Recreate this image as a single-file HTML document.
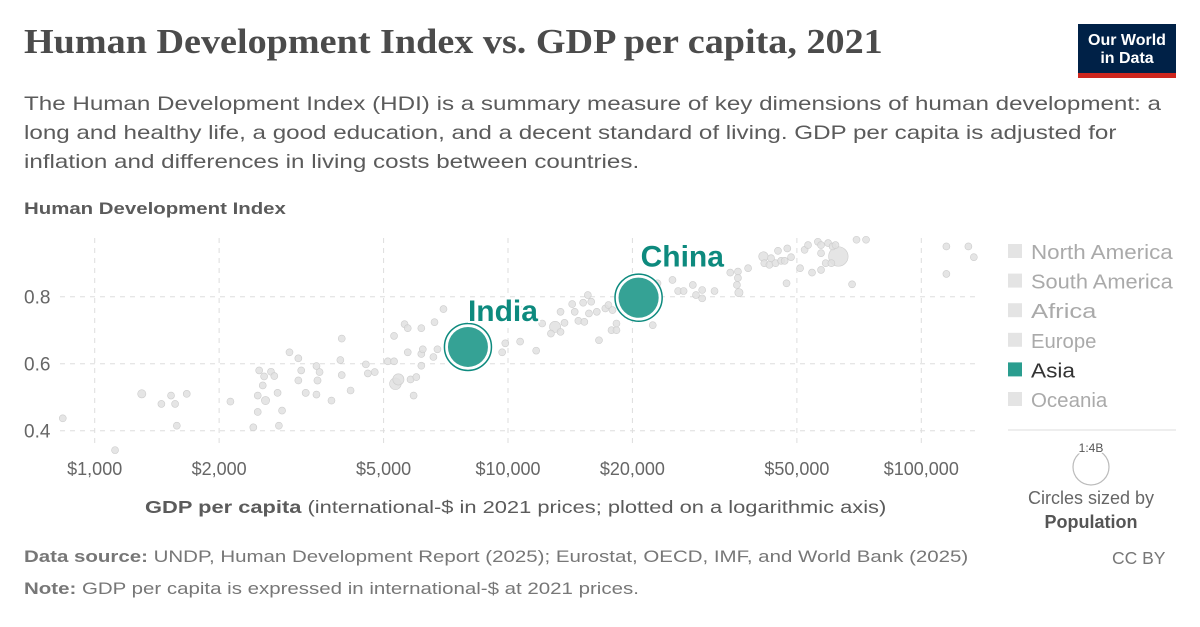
<!DOCTYPE html>
<html><head><meta charset="utf-8"><style>
body{margin:0;background:#fff;width:1200px;height:627px;overflow:hidden;position:relative;font-family:"Liberation Sans",sans-serif;}
.a{position:absolute;white-space:nowrap;}
.s{transform-origin:0 0;}
</style></head><body>
<div class="a s" style="left:24px;top:22px;font-family:'Liberation Serif',serif;font-size:35px;font-weight:bold;color:#4b4b4b;transform:scaleX(1.09);">Human Development Index vs. GDP per capita, 2021</div>
<div class="a" style="left:1078px;top:24px;width:98px;height:54px;background:#002147;border-bottom:5px solid #ce261e;box-sizing:border-box;color:#fff;font-size:16px;line-height:18px;text-align:center;padding-top:8px;font-weight:bold;">Our World<br>in Data</div>
<div class="a s" style="left:24px;top:90px;font-size:19.5px;line-height:29px;color:#5b5b5b;transform:scaleX(1.24);">The Human Development Index (HDI) is a summary measure of key dimensions of human development: a<br>long and healthy life, a good education, and a decent standard of living. GDP per capita is adjusted for<br>inflation and differences in living costs between countries.</div>
<div class="a s" style="left:24px;top:199px;font-size:17px;font-weight:bold;color:#5b5b5b;transform:scaleX(1.2);">Human Development Index</div>
<svg class="a" style="left:0;top:0" width="1200" height="627" id="chart"></svg>
<div class="a s" style="left:145px;top:497px;font-size:17.5px;color:#5b5b5b;transform:scaleX(1.25);"><b>GDP per capita</b> (international-$ in 2021 prices; plotted on a logarithmic axis)</div>
<div class="a s" style="left:24px;top:548px;font-size:16.5px;color:#777;transform:scaleX(1.24);"><b>Data source:</b> UNDP, Human Development Report (2025); Eurostat, OECD, IMF, and World Bank (2025)</div>
<div class="a s" style="left:24px;top:580px;font-size:16.5px;color:#777;transform:scaleX(1.24);"><b>Note:</b> GDP per capita is expressed in international-$ at 2021 prices.</div>
<div class="a" style="left:1112px;top:548px;font-size:17.5px;color:#777;">CC BY</div>
<script>
const xTicks=[1000,2000,5000,10000,20000,50000,100000];
const xTickLabels=["$1,000","$2,000","$5,000","$10,000","$20,000","$50,000","$100,000"];
const yTicks=[0.4,0.6,0.8];
const yTickLabels=["0.4","0.6","0.8"];
const gdp=[837,1120,1300,1450,1530,1565,1670,1580,2130,2420,2480,2480,2590,2550,2500,2570,2670,2720,2770,2790,2840,2960,3110,3160,3110,3240,3440,3500,3460,3440,3740,3930,3960,3960,4160,4530,4580,4760,5120,5300,5300,5430,5340,5620,5720,5720,5810,5910,6000,6170,6170,6220,6170,6600,6640,6750,6980,9680,9850,10700,11700,10800,12100,12700,13000,13400,13700,13400,14300,14500,14800,15200,15600,15900,15700,15300,16400,17200,17500,17900,17800,18300,18300,16600,22400,23000,25000,25800,26600,28000,28500,29500,29500,31600,31000,34500,36000,36000,35800,36200,38100,41500,41700,43300,42900,45000,44400,45800,47400,48400,46700,47200,50900,52200,53200,54400,56200,57200,57200,57200,58700,59500,61000,62000,60600,63000,68000,69700,73500,115000,130000,134000,115000];
const hdi=[0.437,0.342,0.51,0.48,0.505,0.48,0.51,0.415,0.487,0.41,0.456,0.505,0.49,0.535,0.58,0.562,0.576,0.563,0.513,0.415,0.46,0.634,0.616,0.58,0.55,0.513,0.593,0.575,0.55,0.508,0.49,0.611,0.675,0.566,0.52,0.598,0.571,0.575,0.607,0.607,0.683,0.553,0.54,0.718,0.706,0.634,0.553,0.505,0.56,0.706,0.629,0.643,0.594,0.62,0.724,0.643,0.763,0.634,0.661,0.666,0.639,0.76,0.72,0.69,0.71,0.695,0.722,0.755,0.778,0.755,0.728,0.782,0.805,0.785,0.75,0.725,0.755,0.765,0.775,0.76,0.70,0.70,0.72,0.67,0.715,0.84,0.85,0.817,0.817,0.835,0.805,0.795,0.82,0.817,0.9,0.872,0.875,0.856,0.835,0.812,0.885,0.92,0.9,0.915,0.895,0.937,0.9,0.907,0.944,0.918,0.907,0.84,0.885,0.94,0.954,0.872,0.964,0.954,0.93,0.88,0.9,0.96,0.95,0.954,0.9,0.92,0.837,0.97,0.97,0.95,0.95,0.918,0.868];
const popM=[10,10,60,10,10,10,10,10,10,10,10,10,60,10,10,10,10,10,10,10,10,10,10,10,10,45,10,10,45,10,10,10,10,10,10,10,10,10,10,10,10,110,120,10,10,10,10,10,10,10,10,10,10,10,10,10,10,10,10,10,10,10,10,10,110,10,10,10,10,10,10,10,10,10,10,10,10,10,10,10,10,10,10,10,10,10,10,10,10,10,10,10,10,10,10,10,10,10,10,60,10,80,10,10,10,10,10,10,10,10,10,10,10,10,10,10,10,10,10,10,10,10,10,10,10,335,10,10,10,10,10,10,10];
const highlightNames=["India","China"];
const highlightGdp=[8000,20700];
const highlightHdi=[0.65,0.797];
const highlightPop=[1410,1420];
const legendLabels=["North America","South America","Africa","Europe","Asia","Oceania"];

const NS="http://www.w3.org/2000/svg";
const svg=document.getElementById('chart');
const X0=60,X1=980;
function xs(v){return 94.7+413.3*Math.log10(v/1000);}
function ys(v){return 296.7+(0.8-v)*335;}
function rs(p){return Math.max(3.5,20*Math.sqrt(p/1410));}
function el(t,a,p){const e=document.createElementNS(NS,t);for(const k in a)e.setAttribute(k,a[k]);(p||svg).appendChild(e);return e;}
xTicks.forEach((t,i)=>{
  const g=el('line',{x1:xs(t),x2:xs(t),y1:238,y2:448,stroke:'#ddd','stroke-dasharray':'5,5'});
  
  
  const tx=el('text',{x:xs(t),y:475,'text-anchor':'middle','font-size':18,fill:'#666','font-family':'Liberation Sans'});
  tx.textContent=xTickLabels[i];
  
  
});
yTicks.forEach((t,i)=>{
  const g=el('line',{x1:X0,x2:X1,y1:ys(t),y2:ys(t),stroke:'#ddd','stroke-dasharray':'5,5'});
  
  
  const tx=el('text',{x:24,y:ys(t)+7,'font-size':19,fill:'#666','font-family':'Liberation Sans'});
  tx.textContent=yTickLabels[i];
  
  
});
const order=gdp.map((g,i)=>i).sort((a,b)=>popM[b]-popM[a]);
order.forEach(i=>{
  const c=el('circle',{cx:xs(gdp[i]),cy:ys(hdi[i]),r:rs(popM[i]),fill:'#e0e0e0','fill-opacity':0.85,stroke:'#ccc','stroke-width':0.6});
  
  
});
highlightNames.forEach((n,i)=>{
  const cx=xs(highlightGdp[i]),cy=ys(highlightHdi[i]),r=rs(highlightPop[i]);
  const ring=el('circle',{cx:cx,cy:cy,r:r+3.5,fill:'#fff',stroke:'#0d8a7e','stroke-width':1.5});
  
  
  const c=el('circle',{cx:cx,cy:cy,r:r,fill:'#2a9d8f','fill-opacity':0.95});
  
  
  const t=el('text',{x:cx+(i==0?0:2),y:cy-r-(i==0?6:11),'font-size':30,'font-weight':'bold',fill:'#0d8a7e','font-family':'Liberation Sans',stroke:'#fff','stroke-width':4,'paint-order':'stroke'});
  t.textContent=n;
  
  
});
legendLabels.forEach((n,i)=>{
  const y=252+i*29.6;
  const hl=n==="Asia";
  const s=el('rect',{x:1008,y:y-8,width:14,height:14,fill:hl?'#2a9d8f':'#e4e4e4'});
  
  
  const t=el('text',{x:1031,y:y+7,'font-size':20,fill:hl?'#333':'#aaa','font-family':'Liberation Sans',textLength:hl?44:(n.length*10.9),lengthAdjust:'spacingAndGlyphs'});
  t.textContent=n;
  
  
});
const sep=el('line',{x1:1008,x2:1176,y1:430,y2:430,stroke:'#ddd'});


const sc=el('circle',{cx:1091,cy:467,r:18,fill:'none',stroke:'#bbb','stroke-width':1.2});


const sl=el('text',{x:1091,y:452,'text-anchor':'middle','font-size':12,fill:'#555','font-family':'Liberation Sans',stroke:'#fff','stroke-width':3,'paint-order':'stroke'});
sl.textContent="1:4B";


const s1=el('text',{x:1091,y:504,'text-anchor':'middle','font-size':18,fill:'#666','font-family':'Liberation Sans'});
s1.textContent="Circles sized by";


const s2=el('text',{x:1091,y:528,'text-anchor':'middle','font-size':18,'font-weight':'bold',fill:'#555','font-family':'Liberation Sans'});
s2.textContent="Population";


</script>
</body></html>
